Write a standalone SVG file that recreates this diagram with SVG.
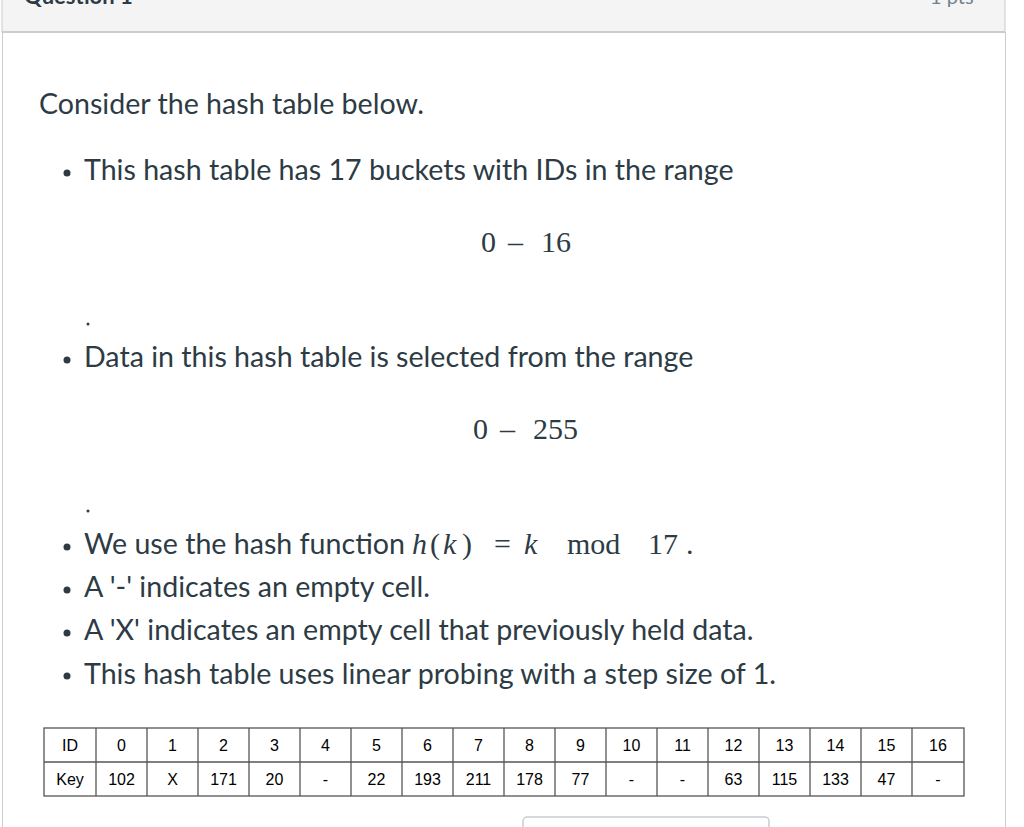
<svg xmlns="http://www.w3.org/2000/svg" width="1024" height="827" viewBox="0 0 1024 827">
<style>
.t{font-family:Lato,"Liberation Sans",sans-serif;font-size:28.6px;fill:#2d3b45}
.m{font-family:"Liberation Serif",serif;font-size:30px;fill:#2d3b45}
.c{font-family:"Liberation Sans",Arial,sans-serif;font-size:16px;fill:#000;text-anchor:middle}
.g line{stroke:#555;stroke-width:1.3}
</style>
<rect x="0" y="0" width="1024" height="827" fill="#fff"/>
<rect x="2" y="-2" width="1003" height="34" fill="#f4f4f4" stroke="#c7cdd1"/>
<line x1="2" y1="32" x2="1005" y2="32" stroke="#c7cdd1" stroke-width="2"/>
<line x1="2.5" y1="32" x2="2.5" y2="827" stroke="#c7cdd1"/>
<line x1="1005.5" y1="32" x2="1005.5" y2="827" stroke="#c7cdd1"/>
<text x="24" y="4" font-family="Lato,'Liberation Sans',sans-serif" font-size="22" font-weight="bold" fill="#2d3b45">Question 1</text>
<text x="930" y="4" font-family="Lato,'Liberation Sans',sans-serif" font-size="20" fill="#73818c">1 pts</text>
<text class="t" x="39" y="114">Consider the hash table below.</text>
<g class="t">
<circle cx="67" cy="173" r="3.5" fill="#2d3b45"/>
<text x="84" y="180">This hash table has 17 buckets with IDs in the range</text>
<circle cx="67" cy="360" r="3.5" fill="#2d3b45"/>
<text x="84" y="367">Data in this hash table is selected from the range</text>
<circle cx="67" cy="547" r="3.5" fill="#2d3b45"/>
<text x="84" y="554">We use the hash function</text>
<circle cx="67" cy="590" r="3.5" fill="#2d3b45"/>
<text x="84" y="597">A '-' indicates an empty cell.</text>
<circle cx="67" cy="633" r="3.5" fill="#2d3b45"/>
<text x="84" y="640">A 'X' indicates an empty cell that previously held data.</text>
<circle cx="67" cy="676" r="3.5" fill="#2d3b45"/>
<text x="84" y="684">This hash table uses linear probing with a step size of 1.</text>
</g>
<text class="m" y="252"><tspan x="481">0</tspan><tspan x="508">–</tspan><tspan x="541">16</tspan></text>
<circle cx="88" cy="324" r="1.5" fill="#2d3b45"/>
<text class="m" y="439"><tspan x="473">0</tspan><tspan x="500">–</tspan><tspan x="533">255</tspan></text>
<circle cx="88" cy="511" r="1.5" fill="#2d3b45"/>
<text class="m" y="554"><tspan x="412" font-style="italic">h</tspan><tspan x="430">(</tspan><tspan x="443" font-style="italic">k</tspan><tspan x="462">)</tspan><tspan x="494">=</tspan><tspan x="524" font-style="italic">k</tspan><tspan x="567">mod</tspan><tspan x="648">17</tspan><tspan x="686">.</tspan></text>
<g id="table">
<rect x="44" y="728" width="920" height="68" fill="#fff" stroke="#555" stroke-width="1.3"/>
<g class="g">
<line x1="44" y1="762" x2="964" y2="762"/>
<line x1="96" y1="728" x2="96" y2="796"/><line x1="147" y1="728" x2="147" y2="796"/><line x1="198" y1="728" x2="198" y2="796"/><line x1="249" y1="728" x2="249" y2="796"/><line x1="300" y1="728" x2="300" y2="796"/><line x1="351" y1="728" x2="351" y2="796"/><line x1="402" y1="728" x2="402" y2="796"/><line x1="453" y1="728" x2="453" y2="796"/><line x1="504" y1="728" x2="504" y2="796"/><line x1="555" y1="728" x2="555" y2="796"/><line x1="606" y1="728" x2="606" y2="796"/><line x1="657" y1="728" x2="657" y2="796"/><line x1="708" y1="728" x2="708" y2="796"/><line x1="759" y1="728" x2="759" y2="796"/><line x1="810" y1="728" x2="810" y2="796"/><line x1="861" y1="728" x2="861" y2="796"/><line x1="912" y1="728" x2="912" y2="796"/>
</g>
<g class="c">
<text x="70" y="751">ID</text><text x="70" y="785">Key</text>
<text x="121.5" y="751">0</text><text x="121.5" y="785">102</text>
<text x="172.5" y="751">1</text><text x="172.5" y="785">X</text>
<text x="223.5" y="751">2</text><text x="223.5" y="785">171</text>
<text x="274.5" y="751">3</text><text x="274.5" y="785">20</text>
<text x="325.5" y="751">4</text><text x="325.5" y="785">-</text>
<text x="376.5" y="751">5</text><text x="376.5" y="785">22</text>
<text x="427.5" y="751">6</text><text x="427.5" y="785">193</text>
<text x="478.5" y="751">7</text><text x="478.5" y="785">211</text>
<text x="529.5" y="751">8</text><text x="529.5" y="785">178</text>
<text x="580.5" y="751">9</text><text x="580.5" y="785">77</text>
<text x="631.5" y="751">10</text><text x="631.5" y="785">-</text>
<text x="682.5" y="751">11</text><text x="682.5" y="785">-</text>
<text x="733.5" y="751">12</text><text x="733.5" y="785">63</text>
<text x="784.5" y="751">13</text><text x="784.5" y="785">115</text>
<text x="835.5" y="751">14</text><text x="835.5" y="785">133</text>
<text x="886.5" y="751">15</text><text x="886.5" y="785">47</text>
<text x="938" y="751">16</text><text x="938" y="785">-</text>
</g>
</g>
<rect x="523" y="817" width="246" height="30" rx="4" fill="#fff" stroke="#c7cdd1" stroke-width="1.5"/>
</svg>
